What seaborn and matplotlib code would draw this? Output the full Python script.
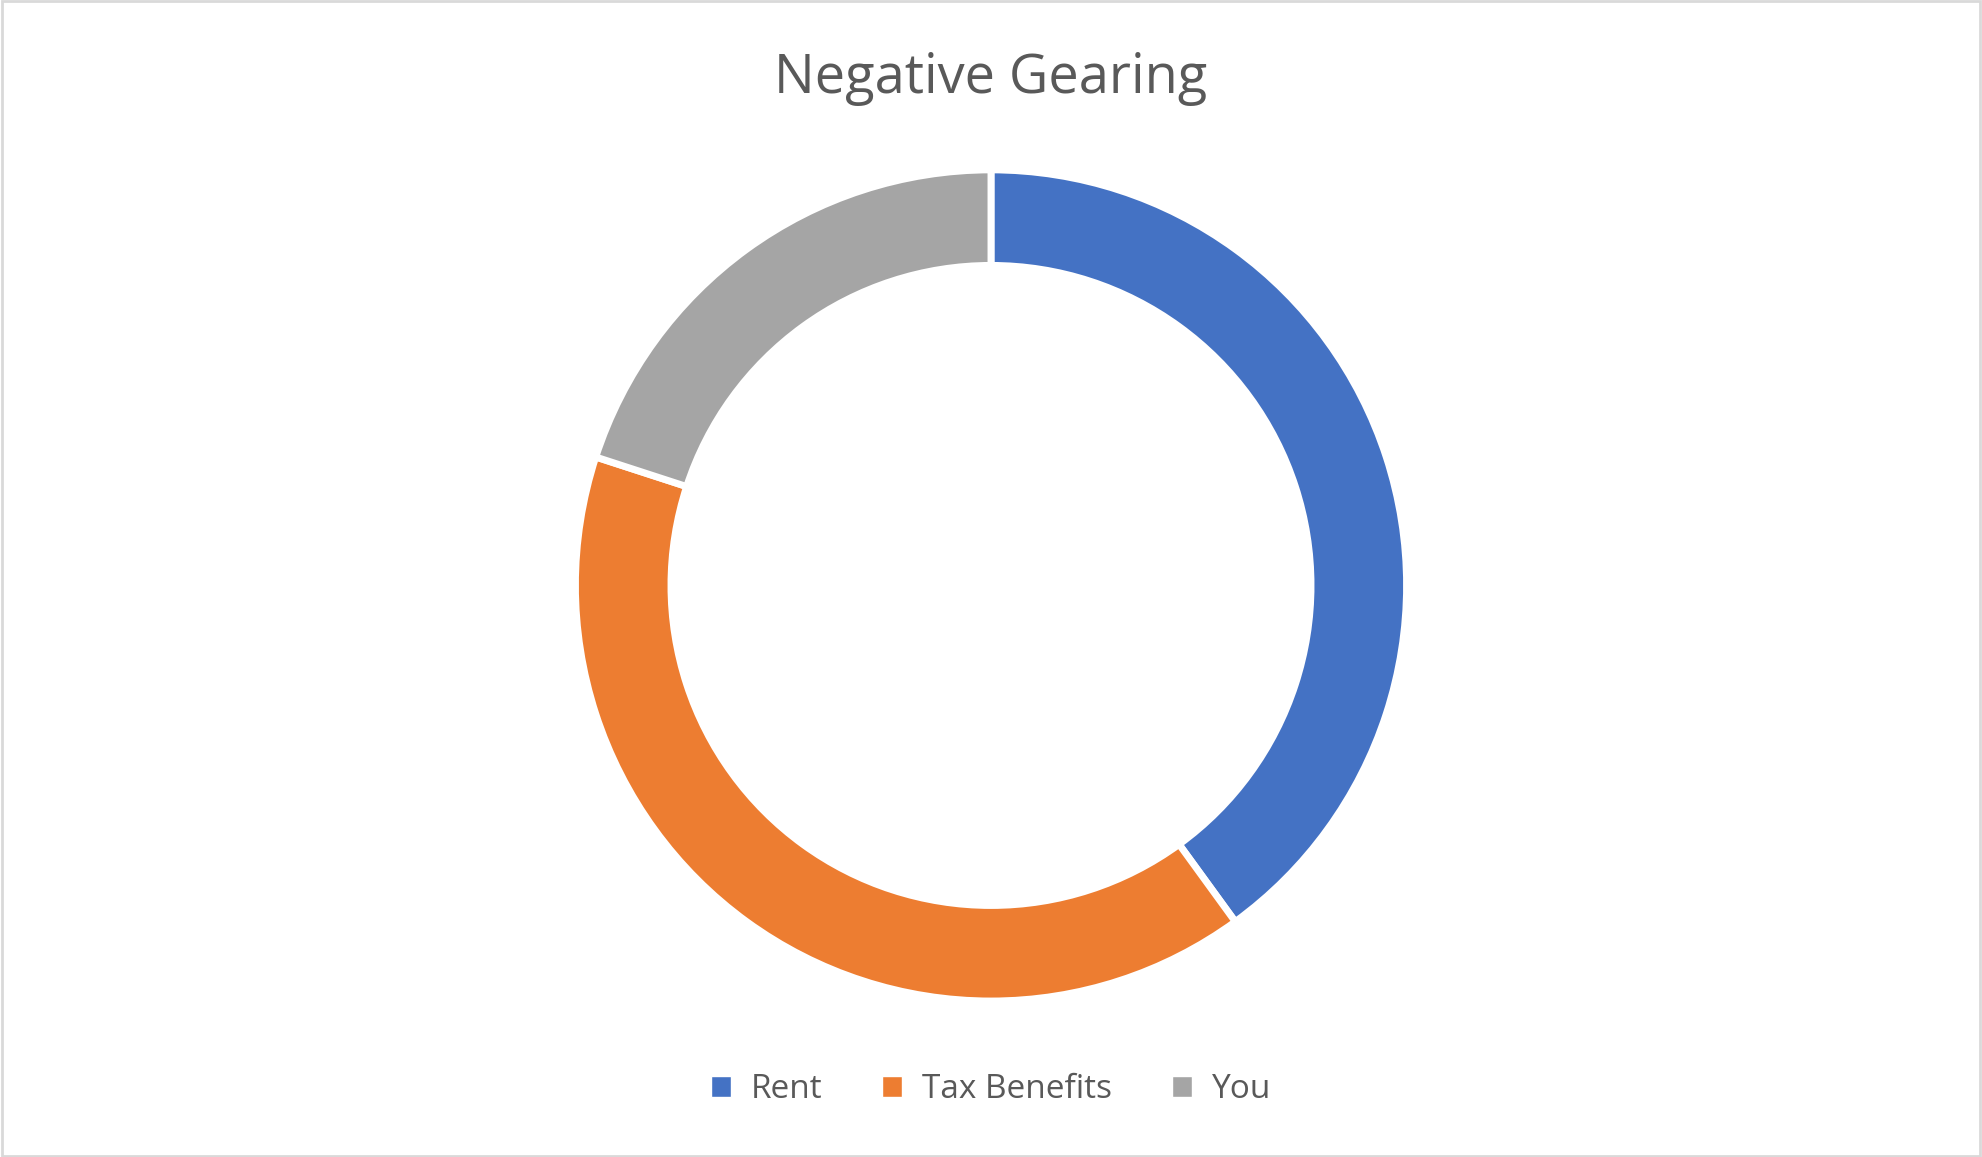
import matplotlib
matplotlib.use("Agg")
import matplotlib.pyplot as plt
import seaborn as sns
from matplotlib.patches import Patch, Rectangle

sns.set_theme(style="white")
plt.rcParams['font.family'] = ['Open Sans', 'DejaVu Sans']

categories = ["Rent", "Tax Benefits", "You"]
values = [40, 40, 20]
colors = ["#4472C4", "#ED7D31", "#A5A5A5"]

fig = plt.figure(figsize=(19.82, 11.57), dpi=100)
fig.patches.append(Rectangle((0.001, 0.001), 0.998, 0.998, transform=fig.transFigure,
                             fill=False, edgecolor="#D9D9D9", linewidth=2))
h = 0.898
w = h * 11.57 / 19.82
ax = fig.add_axes([0.5 - w / 2, 0.494 - h / 2, w, h])
ax.pie(values, colors=colors, startangle=90, counterclock=False,
       wedgeprops=dict(width=0.23, edgecolor="white", linewidth=5))
ax.set_aspect("equal")
fig.text(0.5, 0.932, "Negative Gearing", ha="center", va="center", fontsize=39, color="#595959")
handles = [Patch(facecolor=c, label=l) for c, l in zip(colors, categories)]
fig.legend(handles=handles, loc="center", bbox_to_anchor=(0.5, 0.058), ncol=3, frameon=False,
           fontsize=24, labelcolor="#595959", handlelength=0.6, handleheight=0.6,
           columnspacing=1.8, handletextpad=0.6)
fig.savefig("out.png", dpi=100)
